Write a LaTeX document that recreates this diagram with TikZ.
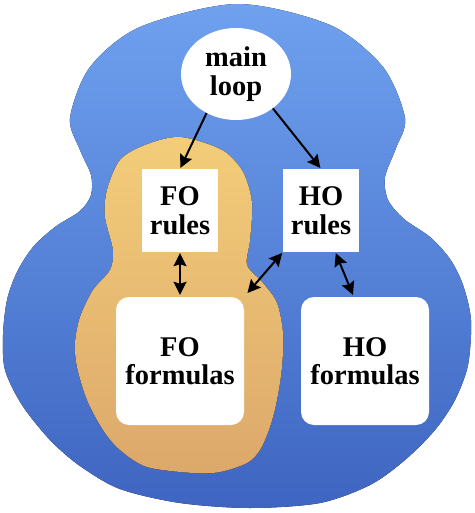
\documentclass[tikz,border=0pt]{standalone}
\usepackage{fontspec}
\setmainfont{Liberation Serif}
\usetikzlibrary{shapes.geometric,arrows.meta}
\definecolor{outertop}{HTML}{6FA1EF}
\definecolor{outerbot}{HTML}{3E65C1}
\definecolor{innertop}{HTML}{F3CD79}
\definecolor{innerbot}{HTML}{DCA86B}
\begin{document}
\begin{tikzpicture}[x=1pt,y=-1pt,>={Stealth[length=13pt,width=13pt,inset=2pt]},
	box/.style={fill=white,inner sep=0pt,align=center,font=\fontsize{28.5}{28.5}\selectfont\bfseries},
	rules/.style={box,minimum width=76pt,minimum height=83pt},
	formulas/.style={box,rounded corners=13pt,minimum width=128pt,minimum height=128pt},
	link/.style={line width=2pt}]
\useasboundingbox (0,0) rectangle (474,513);
% outer blob
\fill[top color=outertop,bottom color=outerbot] plot[smooth cycle] coordinates {
	(237,4) (330,25) (383,67) (405,118) (396,148) (385,177) (388,200) (404,219) (430,237)
	(450,259) (463,285) (471,320) (468,365) (455,400) (435,430) (405,460) (370,485) (320,503)
	(250,508) (180,503) (120,489) (80,466) (50,440) (22,405) (5,370) (3,335) (7,300) (17,272)
	(33,247) (55,227) (80,211) (91,195) (91,175) (80,150) (70,118) (90,67) (140,27)};
% FO blob
\fill[top color=innertop,bottom color=innerbot] plot[smooth cycle] coordinates {
	(180,137) (222,150) (243,172) (252,203) (250,240) (247,265) (263,283) (277,303) (283,333)
	(282,367) (277,400) (270,427) (260,450) (247,463) (220,472) (193,473) (147,467) (120,450)
	(103,430) (87,400) (77,367) (75,343) (80,317) (93,290) (110,270) (113,250) (105,217)
	(107,190) (120,160) (145,145)};
\node[box,ellipse,minimum width=110pt,minimum height=92pt] (loop) at (236,74) {main\\loop};
\node[rules] (FOr) at (180,210.5) {FO\\rules};
\node[rules] (HOr) at (321,210.5) {HO\\rules};
\node[formulas] (FOf) at (180,361) {FO\\formulas};
\node[formulas] (HOf) at (365,361) {HO\\formulas};
\draw[link,->,shorten >=1pt] (loop.233) -- (FOr.north);
\draw[link,->,shorten >=1pt] (loop.317) -- (HOr.north);
\draw[link,<->,shorten <=1pt,shorten >=2pt] (FOr.south) -- (FOf.north);
\draw[link,<->,shorten <=1pt,shorten >=5pt] (HOr.south west) -- (FOf.north east);
\draw[link,<->,shorten <=1pt,shorten >=2pt] (HOr.-71) -- (HOf.100);
\end{tikzpicture}
\end{document}
